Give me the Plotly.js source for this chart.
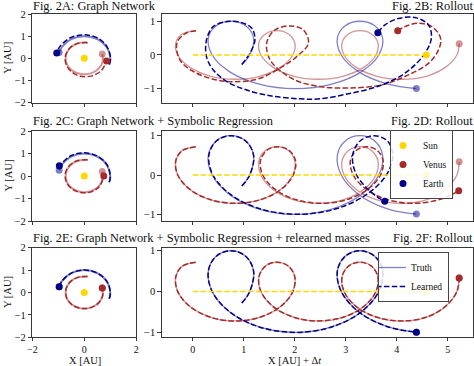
<!DOCTYPE html>
<html><head><meta charset="utf-8">
<script src="https://cdn.plot.ly/plotly-3.0.1.min.js"></script>
<style>html,body{margin:0;padding:0;background:#fff;}#chart{width:474px;height:366px;}</style>
</head><body><div id="chart"></div>
<script>
// ---------- DATA ----------
const panelTitles = ['Fig. 2A: Graph Network', 'Fig. 2B: Rollout',
  'Fig. 2C: Graph Network + Symbolic Regression', 'Fig. 2D: Rollout',
  'Fig. 2E: Graph Network + Symbolic Regression + relearned masses', 'Fig. 2F: Rollout'];
const bodyNames = ['Sun', 'Venus', 'Earth'];
const styleNames = ['Truth', 'Learned'];
const orbitXTicks = [-2, 0, 2];
const orbitYTicks = [-2, -1, 0, 1, 2];
const rolloutXTicks = [0, 1, 2, 3, 4, 5];
const rolloutYTicks = [-1, 0, 1];

// Sun
const sunPosX = [0], sunPosY = [0];
const sunTrackX = [0, 4.58], sunTrackY = [0, 0];

// Left panels: orbits around the Sun
const orbitTruthEarthX = [0.960, 1.0, 0.866, 0.5, 0, -0.5, -0.866, -0.966];
const orbitTruthEarthY = [-0.281, 0, 0.5, 0.866, 1, 0.866, 0.5, 0.259];
const orbitTruthVenusX = [0.125, -0.246, -0.552, -0.709, -0.677, -0.463, -0.125, 0.246, 0.552, 0.709, 0.692];
const orbitTruthVenusY = [0.709, 0.677, 0.463, 0.125, -0.246, -0.552, -0.709, -0.677, -0.463, -0.125, 0.198];
const orbitAEarthX = [0.960, 1.01, 0.88, 0.525, 0, -0.535, -0.935, -1.06];
const orbitAEarthY = [-0.281, 0, 0.51, 0.909, 1.06, 0.927, 0.54, 0.24];
const orbitAVenusX = [0.125, -0.246, -0.556, -0.72, -0.705, -0.50, -0.143, 0.287, 0.655, 0.857];
const orbitAVenusY = [0.709, 0.677, 0.466, 0.127, -0.257, -0.596, -0.81, -0.789, -0.55, -0.12];
const orbitCEarthX = [0.960, 1.0, 0.87, 0.51, 0, -0.52, -0.96];
const orbitCEarthY = [-0.281, 0, 0.5, 0.88, 1.03, 0.9, 0.45];
const orbitCVenusX = [0.127, -0.25, -0.563, -0.726, -0.696, -0.479, -0.130, 0.257, 0.575, 0.75];
const orbitCVenusY = [0.72, 0.686, 0.472, 0.128, -0.253, -0.571, -0.738, -0.705, -0.482, 0];

// Right panels: rollouts, X + dt
const truthEarthX = [0.963, 1.118, 1.194, 1.039, 0.750, 0.461, 0.306, 0.382, 0.727, 1.304, 2.015, 2.726, 3.303, 3.648, 3.724, 3.569, 3.280, 2.991, 2.836, 2.913, 3.258, 3.834, 4.386];
const truthEarthY = [-0.281, 0, 0.5, 0.866, 1.0, 0.866, 0.5, 0, -0.5, -0.866, -1.0, -0.866, -0.5, 0, 0.5, 0.866, 1.0, 0.866, 0.5, 0, -0.5, -0.866, -0.994];
const truthVenusX = [0.060, -0.204, -0.332, -0.293, -0.060, 0.339, 0.835, 1.331, 1.730, 1.962, 2.002, 1.874, 1.650, 1.426, 1.298, 1.338, 1.570, 1.969, 2.465, 2.961, 3.360, 3.593, 3.632, 3.504, 3.280, 3.056, 2.928, 2.968, 3.200, 3.599, 4.095, 4.591, 4.960, 5.180, 5.225];
const truthVenusY = [0.717, 0.624, 0.36, 0, -0.36, -0.624, -0.72, -0.624, -0.36, 0, 0.36, 0.624, 0.72, 0.624, 0.36, 0, -0.36, -0.624, -0.72, -0.624, -0.36, 0, 0.36, 0.624, 0.72, 0.624, 0.36, 0, -0.36, -0.624, -0.72, -0.624, -0.36, 0, 0.335];

const learnedBEarthX = [0.963, 1.12, 1.22, 1.16, 0.96, 0.67, 0.40, 0.27, 0.27, 0.40, 0.67, 1.06, 1.52, 2.10, 2.50, 3.05, 3.65, 4.15, 4.53, 4.68, 4.62, 4.36, 4.03, 3.77, 3.63];
const learnedBEarthY = [-0.281, 0.05, 0.44, 0.79, 0.96, 0.99, 0.84, 0.44, -0.05, -0.44, -0.79, -1.04, -1.21, -1.30, -1.30, -1.15, -0.92, -0.55, 0.0, 0.50, 0.90, 1.11, 1.08, 0.89, 0.66];
const learnedBVenusX = [0.065, -0.14, -0.31, -0.25, 0.01, 0.47, 0.93, 1.32, 1.71, 2.04, 2.27, 2.17, 1.91, 1.61, 1.45, 1.52, 1.78, 2.10, 2.56, 3.05, 3.70, 4.23, 4.62, 4.82, 4.86, 4.69, 4.42, 4.16, 4.02];
const learnedBVenusY = [0.72, 0.64, 0.35, -0.15, -0.49, -0.74, -0.79, -0.69, -0.39, -0.05, 0.35, 0.74, 0.86, 0.74, 0.35, -0.15, -0.54, -0.80, -0.95, -0.98, -0.89, -0.59, -0.25, 0.15, 0.50, 0.84, 0.94, 0.84, 0.72];

const learnedDEarthX = [0.963, 1.118, 1.194, 1.039, 0.750, 0.466, 0.316, 0.397, 0.747, 1.334, 2.055, 2.796, 3.403, 3.798, 3.924, 3.819, 3.560, 3.281, 3.136, 3.213, 3.558, 3.765];
const learnedDEarthY = [-0.281, 0, 0.5, 0.866, 1.0, 0.866, 0.5, 0, -0.5, -0.866, -1.0, -0.866, -0.5, 0, 0.5, 0.866, 1.0, 0.866, 0.5, 0, -0.5, -0.669];
const learnedDVenusX = [0.060, -0.204, -0.332, -0.293, -0.060, 0.339, 0.835, 1.336, 1.740, 1.972, 2.017, 1.894, 1.670, 1.451, 1.328, 1.373, 1.610, 2.014, 2.515, 3.024, 3.437, 3.683, 3.735, 3.621, 3.410, 3.203, 3.091, 3.148, 3.397, 3.812, 4.325, 4.841, 5.216];
const learnedDVenusY = [0.717, 0.624, 0.36, 0, -0.36, -0.624, -0.72, -0.624, -0.36, 0, 0.36, 0.624, 0.72, 0.624, 0.36, 0, -0.36, -0.624, -0.72, -0.624, -0.36, 0, 0.36, 0.624, 0.72, 0.624, 0.36, 0, -0.36, -0.624, -0.72, -0.624, -0.403];

// F: learned matches truth
const learnedFEarthX = truthEarthX, learnedFEarthY = truthEarthY;
const learnedFVenusX = truthVenusX, learnedFVenusY = truthVenusY;

// ---------- STYLE ----------
const W = 474, H = 366;
const FONT = "'Liberation Serif', 'Times New Roman', serif";
const C = {sun: '#FFD700', venus: '#A52A2A', earth: '#00008B',
  venusLight: 'rgba(165,42,42,0.5)', earthLight: 'rgba(0,0,139,0.5)'};
const DASH = '5.5px,2.4px';

function line(x, y, ax, color, opts) {
  opts = opts || {};
  return Object.assign({type: 'scatter', mode: 'lines', x: x, y: y, xaxis: 'x' + ax, yaxis: 'y' + ax,
    line: {color: color, width: opts.width || 1.5, dash: opts.dash || 'solid', shape: 'spline', smoothing: 1},
    hoverinfo: 'skip', showlegend: false}, opts.extra || {});
}
function dot(x, y, ax, color, extra) {
  return Object.assign({type: 'scatter', mode: 'markers', x: [x[x.length - 1]], y: [y[y.length - 1]],
    xaxis: 'x' + ax, yaxis: 'y' + ax, marker: {color: color, size: 7, line: {width: 0}},
    hoverinfo: 'skip', showlegend: false}, extra || {});
}

const traces = [];
// Left panels
const leftPanels = [
  {ax: '', e: [orbitAEarthX, orbitAEarthY], v: [orbitAVenusX, orbitAVenusY]},
  {ax: '3', e: [orbitCEarthX, orbitCEarthY], v: [orbitCVenusX, orbitCVenusY]},
  {ax: '5', e: [orbitTruthEarthX, orbitTruthEarthY], v: [orbitTruthVenusX, orbitTruthVenusY]}
];
leftPanels.forEach(p => {
  traces.push(line(orbitTruthVenusX, orbitTruthVenusY, p.ax, C.venusLight, {width: 2}));
  traces.push(line(orbitTruthEarthX, orbitTruthEarthY, p.ax, C.earthLight, {width: 2}));
  traces.push(line(p.v[0], p.v[1], p.ax, C.venus, {dash: DASH}));
  traces.push(line(p.e[0], p.e[1], p.ax, C.earth, {dash: DASH}));
  traces.push(dot(orbitTruthVenusX, orbitTruthVenusY, p.ax, C.venusLight));
  traces.push(dot(orbitTruthEarthX, orbitTruthEarthY, p.ax, C.earthLight));
  traces.push(dot(sunPosX, sunPosY, p.ax, C.sun));
  traces.push(dot(p.v[0], p.v[1], p.ax, C.venus));
  traces.push(dot(p.e[0], p.e[1], p.ax, C.earth));
});
// Right panels
const rightPanels = [
  {ax: '2', e: [learnedBEarthX, learnedBEarthY], v: [learnedBVenusX, learnedBVenusY]},
  {ax: '4', e: [learnedDEarthX, learnedDEarthY], v: [learnedDVenusX, learnedDVenusY], legend1: true},
  {ax: '6', e: [learnedFEarthX, learnedFEarthY], v: [learnedFVenusX, learnedFVenusY], legend2: true}
];
rightPanels.forEach(p => {
  traces.push(line(truthVenusX, truthVenusY, p.ax, C.venusLight, {width: 1.3}));
  traces.push(line(truthEarthX, truthEarthY, p.ax, C.earthLight, {width: 1.3,
    extra: p.legend2 ? {name: styleNames[0], showlegend: true, legend: 'legend2', legendrank: 1} : {}}));
  traces.push(line(p.v[0], p.v[1], p.ax, C.venus, {dash: DASH}));
  traces.push(line(p.e[0], p.e[1], p.ax, C.earth, {dash: DASH,
    extra: p.legend2 ? {name: styleNames[1], showlegend: true, legend: 'legend2', legendrank: 2} : {}}));
  traces.push(line(sunTrackX, sunTrackY, p.ax, C.sun, {dash: DASH}));
  traces.push(dot(truthVenusX, truthVenusY, p.ax, C.venusLight));
  traces.push(dot(truthEarthX, truthEarthY, p.ax, C.earthLight));
  traces.push(dot(sunTrackX, sunTrackY, p.ax, C.sun,
    p.legend1 ? {name: bodyNames[0], showlegend: true, legend: 'legend', legendrank: 1} : {}));
  traces.push(dot(p.v[0], p.v[1], p.ax, C.venus,
    p.legend1 ? {name: bodyNames[1], showlegend: true, legend: 'legend', legendrank: 2} : {}));
  traces.push(dot(p.e[0], p.e[1], p.ax, C.earth,
    p.legend1 ? {name: bodyNames[2], showlegend: true, legend: 'legend', legendrank: 3} : {}));
});

// ---------- LAYOUT ----------
const px = v => v / W, py = v => 1 - v / H;
const leftDom = [px(32.3), px(136.3)];
const rightDom = [px(161.7), px(473.3)];
const rows = [[py(102.7), py(14)], [py(221), py(131)], [py(337.3), py(247.7)]];

function axisBase(extra) {
  return Object.assign({showline: true, mirror: true, linecolor: '#222', linewidth: 0.9,
    ticks: 'outside', ticklen: 3.5, tickwidth: 0.9, tickcolor: '#222', showgrid: false, zeroline: false,
    tickfont: {family: FONT, size: 10.5, color: '#111'}, fixedrange: true}, extra);
}
const xTickFont = {family: FONT, size: 10, color: '#111'};
const legendBase = {xanchor: 'right', yanchor: 'top', bgcolor: 'rgba(255,255,255,0.85)',
  bordercolor: '#444', borderwidth: 1, font: {family: FONT, size: 9.5}, tracegroupgap: 0, indentation: -8};
const layout = {
  width: W, height: H, margin: {l: 0, r: 0, t: 0, b: 0},
  paper_bgcolor: '#fff', plot_bgcolor: '#fff', font: {family: FONT, color: '#111'},
  showlegend: true,
  legend: Object.assign({x: px(453), y: py(130)}, legendBase),
  legend2: Object.assign({x: px(449), y: py(252)}, legendBase),
  annotations: []
};
const rightYRanges = [[-1.415, 1.215], [-1.17, 1.12], [-1.12, 1.075]];
for (let r = 0; r < 3; r++) {
  const li = 2 * r + 1, ri = 2 * r + 2;
  const lk = li === 1 ? '' : String(li);
  layout['xaxis' + lk] = axisBase({domain: leftDom, range: [-2, 2], tickvals: orbitXTicks,
    showticklabels: r === 2, anchor: 'y' + lk, ticklen: 3, tickfont: xTickFont});
  layout['yaxis' + lk] = axisBase({domain: rows[r], range: [-2, 2], tickvals: orbitYTicks, anchor: 'x' + lk});
  layout['xaxis' + ri] = axisBase({domain: rightDom, range: [-0.608, 5.502], tickvals: rolloutXTicks,
    showticklabels: r === 2, anchor: 'y' + ri, ticklen: 3, tickfont: xTickFont});
  layout['yaxis' + ri] = axisBase({domain: rows[r], range: rightYRanges[r], tickvals: rolloutYTicks, anchor: 'x' + ri});
}
const titleY = [6.5, 121, 238];
for (let r = 0; r < 3; r++) {
  layout.annotations.push({text: panelTitles[2 * r], xref: 'paper', yref: 'paper', x: px(31.5), y: py(titleY[r]),
    xanchor: 'left', yanchor: 'middle', showarrow: false, font: {family: FONT, size: 12.4, color: '#111'}, borderpad: 0});
  layout.annotations.push({text: panelTitles[2 * r + 1], xref: 'paper', yref: 'paper', x: px(473.5), y: py(titleY[r]),
    xanchor: 'right', yanchor: 'middle', showarrow: false, font: {family: FONT, size: 12.4, color: '#111'}, borderpad: 0});
  const mid = (rows[r][0] + rows[r][1]) / 2;
  layout.annotations.push({text: 'Y [AU]', xref: 'paper', yref: 'paper', x: px(7.5), y: mid, textangle: -90,
    xanchor: 'center', yanchor: 'middle', showarrow: false, font: {family: FONT, size: 10.5, color: '#111'}, borderpad: 0});
}
layout.annotations.push({text: 'X [AU]', xref: 'paper', yref: 'paper', x: px(84.5), y: py(360.3),
  xanchor: 'center', yanchor: 'middle', showarrow: false, font: {family: FONT, size: 10.5, color: '#111'}, borderpad: 0});
layout.annotations.push({text: 'X [AU] + Δ<i>t</i>', xref: 'paper', yref: 'paper', x: px(295), y: py(360.3),
  xanchor: 'center', yanchor: 'middle', showarrow: false, font: {family: FONT, size: 10.5, color: '#111'}, borderpad: 0});

Plotly.newPlot('chart', traces, layout, {staticPlot: true, displayModeBar: false});
</script>
</body></html>
